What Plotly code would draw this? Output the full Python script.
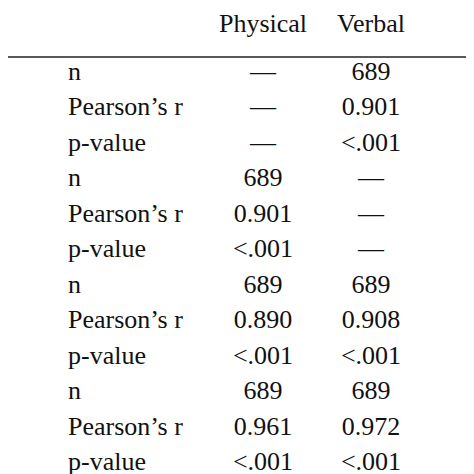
import plotly.graph_objects as go

# table contents
columns = ["Physical", "Verbal"]
row_labels = ["n", "Pearson\u2019s r", "p-value"] * 4
physical = ["\u2014", "\u2014", "\u2014", "689", "0.901", "<.001",
            "689", "0.890", "<.001", "689", "0.961", "<.001"]
verbal = ["689", "0.901", "<.001", "\u2014", "\u2014", "\u2014",
          "689", "0.908", "<.001", "689", "0.972", "<.001"]

font = dict(family="Liberation Serif, Times New Roman, serif", size=26, color="#111")

# page has an 8px body margin, so positions are shifted by -8
row_y = [65 + i * 35.5 for i in range(len(row_labels))]

fig = go.Figure()
fig.add_trace(go.Scatter(x=[60] * len(row_labels), y=row_y, text=row_labels,
                         mode="text", textposition="middle right", textfont=font))
fig.add_trace(go.Scatter(x=[255] * len(physical), y=row_y, text=physical,
                         mode="text", textposition="middle center", textfont=font))
fig.add_trace(go.Scatter(x=[363] * len(verbal), y=row_y, text=verbal,
                         mode="text", textposition="middle center", textfont=font))
fig.add_trace(go.Scatter(x=[255, 363], y=[17, 17], text=columns,
                         mode="text", textposition="middle center", textfont=font))

fig.add_shape(type="line", xref="paper", x0=0, x1=1, y0=49, y1=49,
              line=dict(color="#222", width=1.5))

fig.update_layout(
    width=474, height=474, margin=dict(l=0, r=0, t=0, b=0),
    showlegend=False, plot_bgcolor="white", paper_bgcolor="white",
    xaxis=dict(range=[0, 474], visible=False, fixedrange=True),
    yaxis=dict(range=[474, 0], visible=False, fixedrange=True),
)
fig.write_html("out.html")
